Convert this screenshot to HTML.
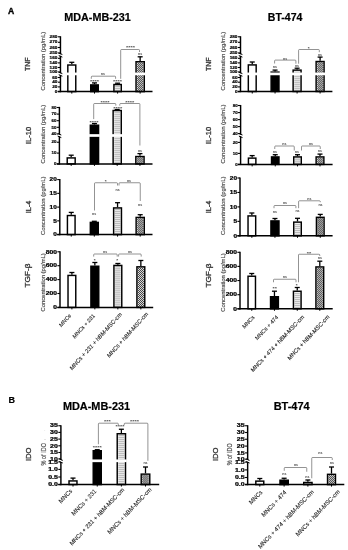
<!DOCTYPE html>
<html lang="en"><head><meta charset="utf-8"><title>Figure</title>
<style>html,body{margin:0;padding:0;background:#fff}svg{display:block}text{font-family:'Liberation Sans', Arial, sans-serif}</style></head><body>
<svg width="348" height="550" viewBox="0 0 348 550">
<rect width="348" height="550" fill="#fff"/>
<text x="0" y="0" font-size="86" transform="translate(8 14.4) scale(0.1000 0.1000)" font-weight="bold" stroke="#000" stroke-width="3.5">A</text>
<text x="0" y="0" font-size="90" transform="translate(8.5 402.6) scale(0.1000 0.1000)" font-weight="bold" stroke="#000" stroke-width="2">B</text>
<text x="0" y="0" font-size="106" transform="translate(64.3 20.6) scale(0.1017 0.1000)" font-weight="bold" stroke="#000" stroke-width="2">MDA-MB-231</text>
<text x="0" y="0" font-size="106" transform="translate(267.8 20.6) scale(0.0995 0.1000)" font-weight="bold" stroke="#000" stroke-width="2">BT-474</text>
<text x="0" y="0" font-size="108" transform="translate(62.9 410) scale(0.1010 0.1000)" font-weight="bold" stroke="#000" stroke-width="2">MDA-MB-231</text>
<text x="0" y="0" font-size="108" transform="translate(273.7 410) scale(0.1016 0.1000)" font-weight="bold" stroke="#000" stroke-width="2">BT-474</text>
<g id="tnf231">
<line x1="71.8" y1="64.3" x2="71.8" y2="62.3" stroke-width="1.3" stroke="#000"/>
<line x1="69.3" y1="62.3" x2="74.3" y2="62.3" stroke-width="1.3" stroke="#000"/>
<rect x="67.82" y="65.02" width="7.95" height="26.57" fill="#fff"/>
<rect x="67.82" y="65.02" width="7.95" height="26.57" fill="none" stroke="#000" stroke-width="1.45"/>
<line x1="71.8" y1="91.6" x2="71.8" y2="93.6" stroke-width="1.0" stroke="#000"/>
<line x1="94.5" y1="84.2" x2="94.5" y2="82.9" stroke-width="1.3" stroke="#000"/>
<line x1="92" y1="82.9" x2="97" y2="82.9" stroke-width="1.3" stroke="#000"/>
<rect x="90.72" y="84.92" width="7.55" height="6.67" fill="#000"/>
<rect x="90.72" y="84.92" width="7.55" height="6.67" fill="none" stroke="#000" stroke-width="1.45"/>
<line x1="94.5" y1="91.6" x2="94.5" y2="93.6" stroke-width="1.0" stroke="#000"/>
<line x1="117.6" y1="83.8" x2="117.6" y2="83.2" stroke-width="1.3" stroke="#000"/>
<line x1="115.1" y1="83.2" x2="120.1" y2="83.2" stroke-width="1.3" stroke="#000"/>
<rect x="113.92" y="84.52" width="7.35" height="7.07" fill="#efefef"/>
<path d="M115.15 90.4H120.05M115.15 88.4H120.05M115.15 86.4H120.05" stroke="#b2b2b2" stroke-width="0.95" fill="none"/>
<rect x="113.92" y="84.52" width="7.35" height="7.07" fill="none" stroke="#000" stroke-width="1.45"/>
<line x1="117.6" y1="91.6" x2="117.6" y2="93.6" stroke-width="1.0" stroke="#000"/>
<line x1="140.15" y1="61" x2="140.15" y2="56.8" stroke-width="1.3" stroke="#000"/>
<line x1="137.65" y1="56.8" x2="142.65" y2="56.8" stroke-width="1.3" stroke="#000"/>
<rect x="136.03" y="61.73" width="8.25" height="29.87" fill="#fff"/>
<path d="M136.75 91.6L136.75 91.6M136.75 89.6L138.75 91.6M136.75 87.6L140.75 91.6M136.75 85.6L142.75 91.6M136.75 83.6L143.55 90.4M136.75 81.6L143.55 88.4M136.75 79.6L143.55 86.4M136.75 77.6L143.55 84.4M136.75 75.6L143.55 82.4M136.75 73.6L143.55 80.4M136.75 71.6L143.55 78.4M136.75 69.6L143.55 76.4M136.75 67.6L143.55 74.4M136.75 65.6L143.55 72.4M136.75 63.6L143.55 70.4M137.6 62.45L143.55 68.4M139.6 62.45L143.55 66.4M141.6 62.45L143.55 64.4M142.75 91.6L143.55 90.8M140.75 91.6L143.55 88.8M138.75 91.6L143.55 86.8M136.75 91.6L143.55 84.8M136.75 89.6L143.55 82.8M136.75 87.6L143.55 80.8M136.75 85.6L143.55 78.8M136.75 83.6L143.55 76.8M136.75 81.6L143.55 74.8M136.75 79.6L143.55 72.8M136.75 77.6L143.55 70.8M136.75 75.6L143.55 68.8M136.75 73.6L143.55 66.8M136.75 71.6L143.55 64.8M136.75 69.6L143.55 62.8M136.75 67.6L141.9 62.45M136.75 65.6L139.9 62.45M136.75 63.6L137.9 62.45" stroke="#000" stroke-width="0.55" fill="none"/>
<rect x="136.03" y="61.73" width="8.25" height="29.87" fill="none" stroke="#000" stroke-width="1.45"/>
<line x1="140.15" y1="91.6" x2="140.15" y2="93.6" stroke-width="1.0" stroke="#000"/>
<rect x="66.6" y="72.55" width="10.4" height="2.7" fill="#fff"/>
<rect x="134.8" y="72.55" width="10.7" height="2.7" fill="#fff"/>
<line x1="60.45" y1="36.25" x2="60.45" y2="92.25" stroke-width="1.45" stroke="#000"/>
<line x1="57.85" y1="91.6" x2="152.5" y2="91.6" stroke-width="1.5" stroke="#000"/>
<line x1="57.85" y1="36.8" x2="60.45" y2="36.8" stroke-width="1.1" stroke="#000"/>
<text x="-55.06" y="0" font-size="33" transform="translate(57.45 37.99) scale(0.1428 0.1000)" font-weight="bold" stroke="#000" stroke-width="1.5">280</text>
<line x1="57.85" y1="42.3" x2="60.45" y2="42.3" stroke-width="1.1" stroke="#000"/>
<text x="-55.06" y="0" font-size="33" transform="translate(57.45 43.49) scale(0.1428 0.1000)" font-weight="bold" stroke="#000" stroke-width="1.5">270</text>
<line x1="57.85" y1="47.5" x2="60.45" y2="47.5" stroke-width="1.1" stroke="#000"/>
<text x="-55.06" y="0" font-size="33" transform="translate(57.45 48.69) scale(0.1428 0.1000)" font-weight="bold" stroke="#000" stroke-width="1.5">260</text>
<line x1="57.85" y1="53" x2="60.45" y2="53" stroke-width="1.1" stroke="#000"/>
<text x="-55.06" y="0" font-size="33" transform="translate(57.45 54.19) scale(0.1428 0.1000)" font-weight="bold" stroke="#000" stroke-width="1.5">250</text>
<line x1="57.85" y1="58.3" x2="60.45" y2="58.3" stroke-width="1.1" stroke="#000"/>
<text x="-55.06" y="0" font-size="33" transform="translate(57.45 59.49) scale(0.1428 0.1000)" font-weight="bold" stroke="#000" stroke-width="1.5">160</text>
<line x1="57.85" y1="62.9" x2="60.45" y2="62.9" stroke-width="1.1" stroke="#000"/>
<text x="-55.06" y="0" font-size="33" transform="translate(57.45 64.09) scale(0.1428 0.1000)" font-weight="bold" stroke="#000" stroke-width="1.5">140</text>
<line x1="57.85" y1="67.5" x2="60.45" y2="67.5" stroke-width="1.1" stroke="#000"/>
<text x="-55.06" y="0" font-size="33" transform="translate(57.45 68.69) scale(0.1428 0.1000)" font-weight="bold" stroke="#000" stroke-width="1.5">120</text>
<line x1="57.85" y1="72" x2="60.45" y2="72" stroke-width="1.1" stroke="#000"/>
<text x="-55.06" y="0" font-size="33" transform="translate(57.45 73.19) scale(0.1428 0.1000)" font-weight="bold" stroke="#000" stroke-width="1.5">100</text>
<line x1="57.85" y1="77.5" x2="60.45" y2="77.5" stroke-width="1.1" stroke="#000"/>
<text x="-36.71" y="0" font-size="33" transform="translate(57.45 78.69) scale(0.1428 0.1000)" font-weight="bold" stroke="#000" stroke-width="1.5">60</text>
<line x1="57.85" y1="82.2" x2="60.45" y2="82.2" stroke-width="1.1" stroke="#000"/>
<text x="-36.71" y="0" font-size="33" transform="translate(57.45 83.39) scale(0.1428 0.1000)" font-weight="bold" stroke="#000" stroke-width="1.5">40</text>
<line x1="57.85" y1="86.9" x2="60.45" y2="86.9" stroke-width="1.1" stroke="#000"/>
<text x="-36.71" y="0" font-size="33" transform="translate(57.45 88.09) scale(0.1428 0.1000)" font-weight="bold" stroke="#000" stroke-width="1.5">20</text>
<line x1="57.85" y1="91.6" x2="60.45" y2="91.6" stroke-width="1.1" stroke="#000"/>
<text x="-18.35" y="0" font-size="33" transform="translate(57.45 92.79) scale(0.1428 0.1000)" font-weight="bold" stroke="#000" stroke-width="1.5">0</text>
<line x1="59.15" y1="54.4" x2="61.75" y2="55.6" stroke-width="1.5" stroke="#fff"/>
<line x1="58.75" y1="53" x2="62.35" y2="54.5" stroke-width="1.0" stroke="#000"/>
<line x1="58.75" y1="55.6" x2="62.35" y2="57.1" stroke-width="1.0" stroke="#000"/>
<line x1="59.15" y1="73.5" x2="61.75" y2="74.7" stroke-width="1.5" stroke="#fff"/>
<line x1="58.75" y1="72.1" x2="62.35" y2="73.6" stroke-width="1.0" stroke="#000"/>
<line x1="58.75" y1="74.7" x2="62.35" y2="76.2" stroke-width="1.0" stroke="#000"/>
<path d="M91.3 78.8V77Q91.3 76.2 92.1 76.2H114.8Q115.6 76.2 115.6 77V78.8" stroke="#4a4a4a" stroke-width="0.6" fill="none"/>
<path d="M120.7 78.8V50.3Q120.7 49.5 121.5 49.5H138.7Q139.5 49.5 139.5 50.3V52" stroke="#4a4a4a" stroke-width="0.6" fill="none"/>
<text x="-21.59" y="0" font-size="37" transform="translate(102.9 74.85) scale(0.0973 0.1000)" font-weight="bold" fill="#484848">ns</text>
<text x="-29.58" y="0" font-size="38" transform="translate(130.5 49.15) scale(0.1522 0.1000)" font-weight="bold" fill="#444">****</text>
<text x="-29.58" y="0" font-size="38" transform="translate(94.6 83.05) scale(0.1522 0.1000)" font-weight="bold" fill="#444">****</text>
<text x="-29.58" y="0" font-size="38" transform="translate(117.6 83.05) scale(0.1522 0.1000)" font-weight="bold" fill="#444">****</text>
<text x="-21.59" y="0" font-size="37" transform="translate(140.2 55.15) scale(0.0973 0.1000)" font-weight="bold" fill="#484848">ns</text>
<text x="-66.09" y="0" font-size="68" transform="translate(30.4 64.3) rotate(-90) scale(0.1029 0.1000)" fill="#333" stroke="#333" stroke-width="3.2">TNF</text>
<text x="-293.5" y="0" font-size="59" transform="translate(44.9 61.1) rotate(-90) scale(0.1001 0.1000)" fill="#555" stroke="#555" stroke-width="2">Concentration (pg/mL)</text>
</g>
<g id="tnf474">
<line x1="252.25" y1="64.2" x2="252.25" y2="62" stroke-width="1.3" stroke="#000"/>
<line x1="249.75" y1="62" x2="254.75" y2="62" stroke-width="1.3" stroke="#000"/>
<rect x="248.32" y="64.92" width="7.85" height="26.57" fill="#fff"/>
<rect x="248.32" y="64.92" width="7.85" height="26.57" fill="none" stroke="#000" stroke-width="1.45"/>
<line x1="252.25" y1="91.5" x2="252.25" y2="93.5" stroke-width="1.0" stroke="#000"/>
<line x1="275.05" y1="71.4" x2="275.05" y2="70.1" stroke-width="1.3" stroke="#000"/>
<line x1="272.55" y1="70.1" x2="277.55" y2="70.1" stroke-width="1.3" stroke="#000"/>
<rect x="271.12" y="72.12" width="7.85" height="19.37" fill="#000"/>
<rect x="271.12" y="72.12" width="7.85" height="19.37" fill="none" stroke="#000" stroke-width="1.45"/>
<line x1="275.05" y1="91.5" x2="275.05" y2="93.5" stroke-width="1.0" stroke="#000"/>
<line x1="297.1" y1="69.4" x2="297.1" y2="68.2" stroke-width="1.3" stroke="#000"/>
<line x1="294.6" y1="68.2" x2="299.6" y2="68.2" stroke-width="1.3" stroke="#000"/>
<rect x="293.12" y="70.12" width="7.95" height="21.37" fill="#efefef"/>
<path d="M294.35 90.3H299.85M294.35 88.3H299.85M294.35 86.3H299.85M294.35 84.3H299.85M294.35 82.3H299.85M294.35 80.3H299.85M294.35 78.3H299.85M294.35 76.3H299.85M294.35 74.3H299.85M294.35 72.3H299.85" stroke="#b2b2b2" stroke-width="0.95" fill="none"/>
<rect x="293.12" y="70.12" width="7.95" height="21.37" fill="none" stroke="#000" stroke-width="1.45"/>
<line x1="297.1" y1="91.5" x2="297.1" y2="93.5" stroke-width="1.0" stroke="#000"/>
<line x1="320.1" y1="60.8" x2="320.1" y2="57.1" stroke-width="1.3" stroke="#000"/>
<line x1="317.6" y1="57.1" x2="322.6" y2="57.1" stroke-width="1.3" stroke="#000"/>
<rect x="316.12" y="61.52" width="7.95" height="29.98" fill="#fff"/>
<path d="M316.85 91.5L316.85 91.5M316.85 89.5L318.85 91.5M316.85 87.5L320.85 91.5M316.85 85.5L322.85 91.5M316.85 83.5L323.35 90M316.85 81.5L323.35 88M316.85 79.5L323.35 86M316.85 77.5L323.35 84M316.85 75.5L323.35 82M316.85 73.5L323.35 80M316.85 71.5L323.35 78M316.85 69.5L323.35 76M316.85 67.5L323.35 74M316.85 65.5L323.35 72M316.85 63.5L323.35 70M317.6 62.25L323.35 68M319.6 62.25L323.35 66M321.6 62.25L323.35 64M322.85 91.5L323.35 91M320.85 91.5L323.35 89M318.85 91.5L323.35 87M316.85 91.5L323.35 85M316.85 89.5L323.35 83M316.85 87.5L323.35 81M316.85 85.5L323.35 79M316.85 83.5L323.35 77M316.85 81.5L323.35 75M316.85 79.5L323.35 73M316.85 77.5L323.35 71M316.85 75.5L323.35 69M316.85 73.5L323.35 67M316.85 71.5L323.35 65M316.85 69.5L323.35 63M316.85 67.5L322.1 62.25M316.85 65.5L320.1 62.25M316.85 63.5L318.1 62.25" stroke="#000" stroke-width="0.55" fill="none"/>
<rect x="316.12" y="61.52" width="7.95" height="29.98" fill="none" stroke="#000" stroke-width="1.45"/>
<line x1="320.1" y1="91.5" x2="320.1" y2="93.5" stroke-width="1.0" stroke="#000"/>
<rect x="247.1" y="72.55" width="10.3" height="2.7" fill="#fff"/>
<rect x="269.9" y="72.55" width="10.3" height="2.7" fill="#fff"/>
<rect x="291.9" y="72.55" width="10.4" height="2.7" fill="#fff"/>
<rect x="314.9" y="72.55" width="10.4" height="2.7" fill="#fff"/>
<line x1="240.5" y1="36.25" x2="240.5" y2="92.15" stroke-width="1.45" stroke="#000"/>
<line x1="237.9" y1="91.5" x2="332.4" y2="91.5" stroke-width="1.5" stroke="#000"/>
<line x1="237.9" y1="36.8" x2="240.5" y2="36.8" stroke-width="1.1" stroke="#000"/>
<text x="-55.06" y="0" font-size="33" transform="translate(237.5 37.99) scale(0.1428 0.1000)" font-weight="bold" stroke="#000" stroke-width="1.5">280</text>
<line x1="237.9" y1="42.3" x2="240.5" y2="42.3" stroke-width="1.1" stroke="#000"/>
<text x="-55.06" y="0" font-size="33" transform="translate(237.5 43.49) scale(0.1428 0.1000)" font-weight="bold" stroke="#000" stroke-width="1.5">270</text>
<line x1="237.9" y1="47.5" x2="240.5" y2="47.5" stroke-width="1.1" stroke="#000"/>
<text x="-55.06" y="0" font-size="33" transform="translate(237.5 48.69) scale(0.1428 0.1000)" font-weight="bold" stroke="#000" stroke-width="1.5">260</text>
<line x1="237.9" y1="53" x2="240.5" y2="53" stroke-width="1.1" stroke="#000"/>
<text x="-55.06" y="0" font-size="33" transform="translate(237.5 54.19) scale(0.1428 0.1000)" font-weight="bold" stroke="#000" stroke-width="1.5">250</text>
<line x1="237.9" y1="58.3" x2="240.5" y2="58.3" stroke-width="1.1" stroke="#000"/>
<text x="-55.06" y="0" font-size="33" transform="translate(237.5 59.49) scale(0.1428 0.1000)" font-weight="bold" stroke="#000" stroke-width="1.5">160</text>
<line x1="237.9" y1="62.9" x2="240.5" y2="62.9" stroke-width="1.1" stroke="#000"/>
<text x="-55.06" y="0" font-size="33" transform="translate(237.5 64.09) scale(0.1428 0.1000)" font-weight="bold" stroke="#000" stroke-width="1.5">140</text>
<line x1="237.9" y1="67.5" x2="240.5" y2="67.5" stroke-width="1.1" stroke="#000"/>
<text x="-55.06" y="0" font-size="33" transform="translate(237.5 68.69) scale(0.1428 0.1000)" font-weight="bold" stroke="#000" stroke-width="1.5">120</text>
<line x1="237.9" y1="72" x2="240.5" y2="72" stroke-width="1.1" stroke="#000"/>
<text x="-55.06" y="0" font-size="33" transform="translate(237.5 73.19) scale(0.1428 0.1000)" font-weight="bold" stroke="#000" stroke-width="1.5">100</text>
<line x1="237.9" y1="77.5" x2="240.5" y2="77.5" stroke-width="1.1" stroke="#000"/>
<text x="-36.71" y="0" font-size="33" transform="translate(237.5 78.69) scale(0.1428 0.1000)" font-weight="bold" stroke="#000" stroke-width="1.5">60</text>
<line x1="237.9" y1="82.2" x2="240.5" y2="82.2" stroke-width="1.1" stroke="#000"/>
<text x="-36.71" y="0" font-size="33" transform="translate(237.5 83.39) scale(0.1428 0.1000)" font-weight="bold" stroke="#000" stroke-width="1.5">40</text>
<line x1="237.9" y1="86.9" x2="240.5" y2="86.9" stroke-width="1.1" stroke="#000"/>
<text x="-36.71" y="0" font-size="33" transform="translate(237.5 88.09) scale(0.1428 0.1000)" font-weight="bold" stroke="#000" stroke-width="1.5">20</text>
<line x1="237.9" y1="91.6" x2="240.5" y2="91.6" stroke-width="1.1" stroke="#000"/>
<text x="-18.35" y="0" font-size="33" transform="translate(237.5 92.79) scale(0.1428 0.1000)" font-weight="bold" stroke="#000" stroke-width="1.5">0</text>
<line x1="239.2" y1="54.4" x2="241.8" y2="55.6" stroke-width="1.5" stroke="#fff"/>
<line x1="238.8" y1="53" x2="242.4" y2="54.5" stroke-width="1.0" stroke="#000"/>
<line x1="238.8" y1="55.6" x2="242.4" y2="57.1" stroke-width="1.0" stroke="#000"/>
<line x1="239.2" y1="73.5" x2="241.8" y2="74.7" stroke-width="1.5" stroke="#fff"/>
<line x1="238.8" y1="72.1" x2="242.4" y2="73.6" stroke-width="1.0" stroke="#000"/>
<line x1="238.8" y1="74.7" x2="242.4" y2="76.2" stroke-width="1.0" stroke="#000"/>
<path d="M274.6 63.5V60.9Q274.6 60.1 275.4 60.1H295.1Q295.9 60.1 295.9 60.9V63.7" stroke="#4a4a4a" stroke-width="0.6" fill="none"/>
<path d="M298.6 63.7V50.3Q298.6 49.5 299.4 49.5H318.5Q319.3 49.5 319.3 50.3V52.2" stroke="#4a4a4a" stroke-width="0.6" fill="none"/>
<text x="-21.59" y="0" font-size="37" transform="translate(285.2 59.65) scale(0.0973 0.1000)" font-weight="bold" fill="#484848">ns</text>
<text x="-7.39" y="0" font-size="38" transform="translate(308.8 49.55) scale(0.1285 0.1000)" font-weight="bold" fill="#444">*</text>
<text x="-21.59" y="0" font-size="37" transform="translate(274.8 68.45) scale(0.0973 0.1000)" font-weight="bold" fill="#484848">ns</text>
<text x="-21.59" y="0" font-size="37" transform="translate(297 67.05) scale(0.0973 0.1000)" font-weight="bold" fill="#484848">ns</text>
<text x="-21.59" y="0" font-size="37" transform="translate(320 55.75) scale(0.0973 0.1000)" font-weight="bold" fill="#484848">ns</text>
<text x="-66.09" y="0" font-size="68" transform="translate(210.6 64.3) rotate(-90) scale(0.1029 0.1000)" fill="#333" stroke="#333" stroke-width="3.2">TNF</text>
<text x="-293.5" y="0" font-size="59" transform="translate(225 61.1) rotate(-90) scale(0.1001 0.1000)" fill="#555" stroke="#555" stroke-width="2">Concentration (pg/mL)</text>
</g>
<g id="il10_231">
<line x1="71.2" y1="157.2" x2="71.2" y2="155.2" stroke-width="1.3" stroke="#000"/>
<line x1="68.7" y1="155.2" x2="73.7" y2="155.2" stroke-width="1.3" stroke="#000"/>
<rect x="67.22" y="157.92" width="7.95" height="5.98" fill="#fff"/>
<rect x="67.22" y="157.92" width="7.95" height="5.98" fill="none" stroke="#000" stroke-width="1.45"/>
<line x1="71.2" y1="163.9" x2="71.2" y2="165.9" stroke-width="1.0" stroke="#000"/>
<line x1="94.45" y1="124.5" x2="94.45" y2="123.6" stroke-width="1.3" stroke="#000"/>
<line x1="91.95" y1="123.6" x2="96.95" y2="123.6" stroke-width="1.3" stroke="#000"/>
<rect x="90.32" y="125.22" width="8.25" height="38.68" fill="#000"/>
<rect x="90.32" y="125.22" width="8.25" height="38.68" fill="none" stroke="#000" stroke-width="1.45"/>
<line x1="94.45" y1="163.9" x2="94.45" y2="165.9" stroke-width="1.0" stroke="#000"/>
<line x1="117.2" y1="109.8" x2="117.2" y2="109.5" stroke-width="1.3" stroke="#000"/>
<line x1="114.7" y1="109.5" x2="119.7" y2="109.5" stroke-width="1.3" stroke="#000"/>
<rect x="113.12" y="110.52" width="8.15" height="53.38" fill="#efefef"/>
<path d="M114.35 162.7H120.05M114.35 160.7H120.05M114.35 158.7H120.05M114.35 156.7H120.05M114.35 154.7H120.05M114.35 152.7H120.05M114.35 150.7H120.05M114.35 148.7H120.05M114.35 146.7H120.05M114.35 144.7H120.05M114.35 142.7H120.05M114.35 140.7H120.05M114.35 138.7H120.05M114.35 136.7H120.05M114.35 134.7H120.05M114.35 132.7H120.05M114.35 130.7H120.05M114.35 128.7H120.05M114.35 126.7H120.05M114.35 124.7H120.05M114.35 122.7H120.05M114.35 120.7H120.05M114.35 118.7H120.05M114.35 116.7H120.05M114.35 114.7H120.05M114.35 112.7H120.05" stroke="#b2b2b2" stroke-width="0.95" fill="none"/>
<rect x="113.12" y="110.52" width="8.15" height="53.38" fill="none" stroke="#000" stroke-width="1.45"/>
<line x1="117.2" y1="163.9" x2="117.2" y2="165.9" stroke-width="1.0" stroke="#000"/>
<line x1="139.95" y1="155.8" x2="139.95" y2="153.6" stroke-width="1.3" stroke="#000"/>
<line x1="137.45" y1="153.6" x2="142.45" y2="153.6" stroke-width="1.3" stroke="#000"/>
<rect x="135.82" y="156.53" width="8.25" height="7.37" fill="#fff"/>
<path d="M136.55 163.9L136.55 163.9M136.55 161.9L138.55 163.9M136.55 159.9L140.55 163.9M136.55 157.9L142.55 163.9M137.9 157.25L143.35 162.7M139.9 157.25L143.35 160.7M141.9 157.25L143.35 158.7M142.55 163.9L143.35 163.1M140.55 163.9L143.35 161.1M138.55 163.9L143.35 159.1M136.55 163.9L143.2 157.25M136.55 161.9L141.2 157.25M136.55 159.9L139.2 157.25M136.55 157.9L137.2 157.25" stroke="#000" stroke-width="0.55" fill="none"/>
<rect x="135.82" y="156.53" width="8.25" height="7.37" fill="none" stroke="#000" stroke-width="1.45"/>
<line x1="139.95" y1="163.9" x2="139.95" y2="165.9" stroke-width="1.0" stroke="#000"/>
<rect x="89.1" y="134.15" width="10.7" height="2.7" fill="#fff"/>
<rect x="111.9" y="134.15" width="10.6" height="2.7" fill="#fff"/>
<line x1="59.4" y1="106.85" x2="59.4" y2="164.55" stroke-width="1.45" stroke="#000"/>
<line x1="56.8" y1="163.9" x2="152.5" y2="163.9" stroke-width="1.5" stroke="#000"/>
<line x1="56.8" y1="107.5" x2="59.4" y2="107.5" stroke-width="1.1" stroke="#000"/>
<text x="-37.82" y="0" font-size="34" transform="translate(56.4 108.72) scale(0.1296 0.1000)" font-weight="bold" stroke="#000" stroke-width="1.5">80</text>
<line x1="56.8" y1="114.1" x2="59.4" y2="114.1" stroke-width="1.1" stroke="#000"/>
<text x="-37.82" y="0" font-size="34" transform="translate(56.4 115.32) scale(0.1296 0.1000)" font-weight="bold" stroke="#000" stroke-width="1.5">70</text>
<line x1="56.8" y1="120.7" x2="59.4" y2="120.7" stroke-width="1.1" stroke="#000"/>
<text x="-37.82" y="0" font-size="34" transform="translate(56.4 121.92) scale(0.1296 0.1000)" font-weight="bold" stroke="#000" stroke-width="1.5">60</text>
<line x1="56.8" y1="127.3" x2="59.4" y2="127.3" stroke-width="1.1" stroke="#000"/>
<text x="-37.82" y="0" font-size="34" transform="translate(56.4 128.52) scale(0.1296 0.1000)" font-weight="bold" stroke="#000" stroke-width="1.5">50</text>
<line x1="56.8" y1="134" x2="59.4" y2="134" stroke-width="1.1" stroke="#000"/>
<text x="-37.82" y="0" font-size="34" transform="translate(56.4 135.22) scale(0.1296 0.1000)" font-weight="bold" stroke="#000" stroke-width="1.5">40</text>
<line x1="56.8" y1="142.25" x2="59.4" y2="142.25" stroke-width="1.1" stroke="#000"/>
<text x="-37.82" y="0" font-size="34" transform="translate(56.4 143.47) scale(0.1296 0.1000)" font-weight="bold" stroke="#000" stroke-width="1.5">20</text>
<line x1="56.8" y1="153.1" x2="59.4" y2="153.1" stroke-width="1.1" stroke="#000"/>
<text x="-37.82" y="0" font-size="34" transform="translate(56.4 154.32) scale(0.1296 0.1000)" font-weight="bold" stroke="#000" stroke-width="1.5">10</text>
<line x1="56.8" y1="163.9" x2="59.4" y2="163.9" stroke-width="1.1" stroke="#000"/>
<text x="-18.91" y="0" font-size="34" transform="translate(56.4 165.12) scale(0.1296 0.1000)" font-weight="bold" stroke="#000" stroke-width="1.5">0</text>
<line x1="58.1" y1="134.9" x2="60.7" y2="136.1" stroke-width="1.5" stroke="#fff"/>
<line x1="57.7" y1="133.5" x2="61.3" y2="135" stroke-width="1.0" stroke="#000"/>
<line x1="57.7" y1="136.1" x2="61.3" y2="137.6" stroke-width="1.0" stroke="#000"/>
<path d="M93.7 119.1V104.3Q93.7 103.5 94.5 103.5H115Q115.8 103.5 115.8 104.3V105.7" stroke="#4a4a4a" stroke-width="0.6" fill="none"/>
<path d="M119.8 105.7V104.3Q119.8 103.5 120.6 103.5H139.1Q139.9 103.5 139.9 104.3V145.5" stroke="#4a4a4a" stroke-width="0.6" fill="none"/>
<text x="-29.58" y="0" font-size="38" transform="translate(105.1 104.35) scale(0.1522 0.1000)" font-weight="bold" fill="#444">****</text>
<text x="-29.58" y="0" font-size="38" transform="translate(129.8 104.35) scale(0.1522 0.1000)" font-weight="bold" fill="#444">****</text>
<text x="-29.58" y="0" font-size="38" transform="translate(94.1 123.95) scale(0.1522 0.1000)" font-weight="bold" fill="#444">****</text>
<text x="-29.58" y="0" font-size="38" transform="translate(117.7 109.85) scale(0.1522 0.1000)" font-weight="bold" fill="#444">****</text>
<text x="-21.59" y="0" font-size="37" transform="translate(140 151.65) scale(0.0973 0.1000)" font-weight="bold" fill="#484848">ns</text>
<text x="-75.22" y="0" font-size="66" transform="translate(30.7 135.4) rotate(-90) scale(0.1147 0.1000)" fill="#333" stroke="#333" stroke-width="3.2">IL-10</text>
<text x="-293.5" y="0" font-size="59" transform="translate(44.9 134.1) rotate(-90) scale(0.1001 0.1000)" fill="#555" stroke="#555" stroke-width="2">Concentration (pg/mL)</text>
</g>
<g id="il10_474">
<line x1="252.15" y1="157.4" x2="252.15" y2="155.6" stroke-width="1.3" stroke="#000"/>
<line x1="249.65" y1="155.6" x2="254.65" y2="155.6" stroke-width="1.3" stroke="#000"/>
<rect x="248.42" y="158.12" width="7.45" height="6.28" fill="#fff"/>
<rect x="248.42" y="158.12" width="7.45" height="6.28" fill="none" stroke="#000" stroke-width="1.45"/>
<line x1="252.15" y1="164.4" x2="252.15" y2="166.4" stroke-width="1.0" stroke="#000"/>
<line x1="275.25" y1="156.2" x2="275.25" y2="154.7" stroke-width="1.3" stroke="#000"/>
<line x1="272.75" y1="154.7" x2="277.75" y2="154.7" stroke-width="1.3" stroke="#000"/>
<rect x="271.53" y="156.92" width="7.45" height="7.48" fill="#000"/>
<rect x="271.53" y="156.92" width="7.45" height="7.48" fill="none" stroke="#000" stroke-width="1.45"/>
<line x1="275.25" y1="164.4" x2="275.25" y2="166.4" stroke-width="1.0" stroke="#000"/>
<line x1="297.5" y1="156.2" x2="297.5" y2="154.7" stroke-width="1.3" stroke="#000"/>
<line x1="295" y1="154.7" x2="300" y2="154.7" stroke-width="1.3" stroke="#000"/>
<rect x="293.73" y="156.92" width="7.55" height="7.48" fill="#efefef"/>
<path d="M294.95 163.2H300.05M294.95 161.2H300.05M294.95 159.2H300.05" stroke="#b2b2b2" stroke-width="0.95" fill="none"/>
<rect x="293.73" y="156.92" width="7.55" height="7.48" fill="none" stroke="#000" stroke-width="1.45"/>
<line x1="297.5" y1="164.4" x2="297.5" y2="166.4" stroke-width="1.0" stroke="#000"/>
<line x1="320" y1="156.2" x2="320" y2="154.1" stroke-width="1.3" stroke="#000"/>
<line x1="317.5" y1="154.1" x2="322.5" y2="154.1" stroke-width="1.3" stroke="#000"/>
<rect x="316.12" y="156.92" width="7.75" height="7.48" fill="#fff"/>
<path d="M316.85 164.4L316.85 164.4M316.85 162.4L318.85 164.4M316.85 160.4L320.85 164.4M316.85 158.4L322.85 164.4M318.1 157.65L323.15 162.7M320.1 157.65L323.15 160.7M322.1 157.65L323.15 158.7M322.85 164.4L323.15 164.1M320.85 164.4L323.15 162.1M318.85 164.4L323.15 160.1M316.85 164.4L323.15 158.1M316.85 162.4L321.6 157.65M316.85 160.4L319.6 157.65M316.85 158.4L317.6 157.65" stroke="#000" stroke-width="0.55" fill="none"/>
<rect x="316.12" y="156.92" width="7.75" height="7.48" fill="none" stroke="#000" stroke-width="1.45"/>
<line x1="320" y1="164.4" x2="320" y2="166.4" stroke-width="1.0" stroke="#000"/>
<line x1="240.6" y1="104.95" x2="240.6" y2="165.05" stroke-width="1.45" stroke="#000"/>
<line x1="238" y1="164.4" x2="332.6" y2="164.4" stroke-width="1.5" stroke="#000"/>
<line x1="238" y1="105.5" x2="240.6" y2="105.5" stroke-width="1.1" stroke="#000"/>
<text x="-37.82" y="0" font-size="34" transform="translate(237.6 106.72) scale(0.1296 0.1000)" font-weight="bold" stroke="#000" stroke-width="1.5">80</text>
<line x1="238" y1="112.6" x2="240.6" y2="112.6" stroke-width="1.1" stroke="#000"/>
<text x="-37.82" y="0" font-size="34" transform="translate(237.6 113.82) scale(0.1296 0.1000)" font-weight="bold" stroke="#000" stroke-width="1.5">70</text>
<line x1="238" y1="119.6" x2="240.6" y2="119.6" stroke-width="1.1" stroke="#000"/>
<text x="-37.82" y="0" font-size="34" transform="translate(237.6 120.82) scale(0.1296 0.1000)" font-weight="bold" stroke="#000" stroke-width="1.5">60</text>
<line x1="238" y1="126.6" x2="240.6" y2="126.6" stroke-width="1.1" stroke="#000"/>
<text x="-37.82" y="0" font-size="34" transform="translate(237.6 127.82) scale(0.1296 0.1000)" font-weight="bold" stroke="#000" stroke-width="1.5">50</text>
<line x1="238" y1="133.6" x2="240.6" y2="133.6" stroke-width="1.1" stroke="#000"/>
<text x="-37.82" y="0" font-size="34" transform="translate(237.6 134.82) scale(0.1296 0.1000)" font-weight="bold" stroke="#000" stroke-width="1.5">40</text>
<line x1="238" y1="142.4" x2="240.6" y2="142.4" stroke-width="1.1" stroke="#000"/>
<text x="-37.82" y="0" font-size="34" transform="translate(237.6 143.62) scale(0.1296 0.1000)" font-weight="bold" stroke="#000" stroke-width="1.5">20</text>
<line x1="238" y1="153.4" x2="240.6" y2="153.4" stroke-width="1.1" stroke="#000"/>
<text x="-37.82" y="0" font-size="34" transform="translate(237.6 154.62) scale(0.1296 0.1000)" font-weight="bold" stroke="#000" stroke-width="1.5">10</text>
<line x1="238" y1="164.4" x2="240.6" y2="164.4" stroke-width="1.1" stroke="#000"/>
<text x="-18.91" y="0" font-size="34" transform="translate(237.6 165.62) scale(0.1296 0.1000)" font-weight="bold" stroke="#000" stroke-width="1.5">0</text>
<line x1="239.3" y1="134.9" x2="241.9" y2="136.1" stroke-width="1.5" stroke="#fff"/>
<line x1="238.9" y1="133.5" x2="242.5" y2="135" stroke-width="1.0" stroke="#000"/>
<line x1="238.9" y1="136.1" x2="242.5" y2="137.6" stroke-width="1.0" stroke="#000"/>
<path d="M274.75 149V146.8Q274.75 146 275.55 146H293.45Q294.25 146 294.25 146.8V150.5" stroke="#4a4a4a" stroke-width="0.6" fill="none"/>
<path d="M301.5 150.5V146.8Q301.5 146 302.3 146H319.45Q320.25 146 320.25 146.8V149" stroke="#4a4a4a" stroke-width="0.6" fill="none"/>
<text x="-21.59" y="0" font-size="37" transform="translate(284.3 145.45) scale(0.0973 0.1000)" font-weight="bold" fill="#484848">ns</text>
<text x="-21.59" y="0" font-size="37" transform="translate(311 145.45) scale(0.0973 0.1000)" font-weight="bold" fill="#484848">ns</text>
<text x="-21.59" y="0" font-size="37" transform="translate(274.8 152.95) scale(0.0973 0.1000)" font-weight="bold" fill="#484848">ns</text>
<text x="-21.59" y="0" font-size="37" transform="translate(296.8 152.95) scale(0.0973 0.1000)" font-weight="bold" fill="#484848">ns</text>
<text x="-21.59" y="0" font-size="37" transform="translate(319.8 152.25) scale(0.0973 0.1000)" font-weight="bold" fill="#484848">ns</text>
<text x="-75.22" y="0" font-size="66" transform="translate(210.8 135.4) rotate(-90) scale(0.1147 0.1000)" fill="#333" stroke="#333" stroke-width="3.2">IL-10</text>
<text x="-293.5" y="0" font-size="59" transform="translate(225 133.9) rotate(-90) scale(0.1009 0.1000)" fill="#555" stroke="#555" stroke-width="2">Concentration (pg/mL)</text>
</g>
<g id="il4_231">
<line x1="71.25" y1="214.8" x2="71.25" y2="212.4" stroke-width="1.3" stroke="#000"/>
<line x1="68.75" y1="212.4" x2="73.75" y2="212.4" stroke-width="1.3" stroke="#000"/>
<rect x="67.42" y="215.53" width="7.65" height="19.07" fill="#fff"/>
<rect x="67.42" y="215.53" width="7.65" height="19.07" fill="none" stroke="#000" stroke-width="1.45"/>
<line x1="71.25" y1="234.6" x2="71.25" y2="236.6" stroke-width="1.0" stroke="#000"/>
<line x1="94.3" y1="221.7" x2="94.3" y2="221.3" stroke-width="1.3" stroke="#000"/>
<line x1="91.8" y1="221.3" x2="96.8" y2="221.3" stroke-width="1.3" stroke="#000"/>
<rect x="90.32" y="222.42" width="7.95" height="12.18" fill="#000"/>
<rect x="90.32" y="222.42" width="7.95" height="12.18" fill="none" stroke="#000" stroke-width="1.45"/>
<line x1="94.3" y1="234.6" x2="94.3" y2="236.6" stroke-width="1.0" stroke="#000"/>
<line x1="117.55" y1="207.2" x2="117.55" y2="202.7" stroke-width="1.3" stroke="#000"/>
<line x1="115.05" y1="202.7" x2="120.05" y2="202.7" stroke-width="1.3" stroke="#000"/>
<rect x="113.62" y="207.92" width="7.85" height="26.68" fill="#efefef"/>
<path d="M114.85 233.4H120.25M114.85 231.4H120.25M114.85 229.4H120.25M114.85 227.4H120.25M114.85 225.4H120.25M114.85 223.4H120.25M114.85 221.4H120.25M114.85 219.4H120.25M114.85 217.4H120.25M114.85 215.4H120.25M114.85 213.4H120.25M114.85 211.4H120.25M114.85 209.4H120.25" stroke="#b2b2b2" stroke-width="0.95" fill="none"/>
<rect x="113.62" y="207.92" width="7.85" height="26.68" fill="none" stroke="#000" stroke-width="1.45"/>
<line x1="117.55" y1="234.6" x2="117.55" y2="236.6" stroke-width="1.0" stroke="#000"/>
<line x1="140.2" y1="216.7" x2="140.2" y2="214.7" stroke-width="1.3" stroke="#000"/>
<line x1="137.7" y1="214.7" x2="142.7" y2="214.7" stroke-width="1.3" stroke="#000"/>
<rect x="136.12" y="217.42" width="8.15" height="17.18" fill="#fff"/>
<path d="M136.85 234.6L136.85 234.6M136.85 232.6L138.85 234.6M136.85 230.6L140.85 234.6M136.85 228.6L142.85 234.6M136.85 226.6L143.55 233.3M136.85 224.6L143.55 231.3M136.85 222.6L143.55 229.3M136.85 220.6L143.55 227.3M136.85 218.6L143.55 225.3M138.4 218.15L143.55 223.3M140.4 218.15L143.55 221.3M142.4 218.15L143.55 219.3M142.85 234.6L143.55 233.9M140.85 234.6L143.55 231.9M138.85 234.6L143.55 229.9M136.85 234.6L143.55 227.9M136.85 232.6L143.55 225.9M136.85 230.6L143.55 223.9M136.85 228.6L143.55 221.9M136.85 226.6L143.55 219.9M136.85 224.6L143.3 218.15M136.85 222.6L141.3 218.15M136.85 220.6L139.3 218.15M136.85 218.6L137.3 218.15" stroke="#000" stroke-width="0.55" fill="none"/>
<rect x="136.12" y="217.42" width="8.15" height="17.18" fill="none" stroke="#000" stroke-width="1.45"/>
<line x1="140.2" y1="234.6" x2="140.2" y2="236.6" stroke-width="1.0" stroke="#000"/>
<line x1="59.8" y1="179.05" x2="59.8" y2="235.25" stroke-width="1.45" stroke="#000"/>
<line x1="57.2" y1="234.6" x2="152.5" y2="234.6" stroke-width="1.5" stroke="#000"/>
<line x1="57.2" y1="179.6" x2="59.8" y2="179.6" stroke-width="1.1" stroke="#000"/>
<text x="-53.39" y="0" font-size="48" transform="translate(56.8 181.33) scale(0.1349 0.1000)" font-weight="bold" stroke="#000" stroke-width="2.2">20</text>
<line x1="57.2" y1="193.35" x2="59.8" y2="193.35" stroke-width="1.1" stroke="#000"/>
<text x="-53.39" y="0" font-size="48" transform="translate(56.8 195.08) scale(0.1349 0.1000)" font-weight="bold" stroke="#000" stroke-width="2.2">15</text>
<line x1="57.2" y1="207.1" x2="59.8" y2="207.1" stroke-width="1.1" stroke="#000"/>
<text x="-53.39" y="0" font-size="48" transform="translate(56.8 208.83) scale(0.1349 0.1000)" font-weight="bold" stroke="#000" stroke-width="2.2">10</text>
<line x1="57.2" y1="220.85" x2="59.8" y2="220.85" stroke-width="1.1" stroke="#000"/>
<text x="-26.7" y="0" font-size="48" transform="translate(56.8 222.58) scale(0.1349 0.1000)" font-weight="bold" stroke="#000" stroke-width="2.2">5</text>
<line x1="57.2" y1="234.6" x2="59.8" y2="234.6" stroke-width="1.1" stroke="#000"/>
<text x="-26.7" y="0" font-size="48" transform="translate(56.8 236.33) scale(0.1349 0.1000)" font-weight="bold" stroke="#000" stroke-width="2.2">0</text>
<path d="M94.5 210.5V183.55Q94.5 182.75 95.3 182.75H116.7Q117.5 182.75 117.5 183.55V185.5" stroke="#4a4a4a" stroke-width="0.6" fill="none"/>
<path d="M119 185.5V183.55Q119 182.75 119.8 182.75H139.45Q140.25 182.75 140.25 183.55V201" stroke="#4a4a4a" stroke-width="0.6" fill="none"/>
<text x="-7.39" y="0" font-size="38" transform="translate(105.75 183.35) scale(0.1285 0.1000)" font-weight="bold" fill="#444">*</text>
<text x="-21.59" y="0" font-size="37" transform="translate(129 181.75) scale(0.0973 0.1000)" font-weight="bold" fill="#484848">ns</text>
<text x="-21.59" y="0" font-size="37" transform="translate(117.6 190.95) scale(0.0973 0.1000)" font-weight="bold" fill="#484848">ns</text>
<text x="-21.59" y="0" font-size="37" transform="translate(140.2 206.45) scale(0.0973 0.1000)" font-weight="bold" fill="#484848">ns</text>
<text x="-21.59" y="0" font-size="37" transform="translate(94.2 215.25) scale(0.0973 0.1000)" font-weight="bold" fill="#484848">ns</text>
<text x="-56.86" y="0" font-size="66" transform="translate(30.7 207) rotate(-90) scale(0.1099 0.1000)" fill="#333" stroke="#333" stroke-width="3.2">IL-4</text>
<text x="-293.5" y="0" font-size="59" transform="translate(44.9 205.7) rotate(-90) scale(0.0997 0.1000)" fill="#555" stroke="#555" stroke-width="2">Concentration (pg/mL)</text>
</g>
<g id="il4_474">
<line x1="251.85" y1="215.2" x2="251.85" y2="213" stroke-width="1.3" stroke="#000"/>
<line x1="249.35" y1="213" x2="254.35" y2="213" stroke-width="1.3" stroke="#000"/>
<rect x="248.03" y="215.92" width="7.65" height="19.88" fill="#fff"/>
<rect x="248.03" y="215.92" width="7.65" height="19.88" fill="none" stroke="#000" stroke-width="1.45"/>
<line x1="251.85" y1="235.8" x2="251.85" y2="237.8" stroke-width="1.0" stroke="#000"/>
<line x1="274.95" y1="220.2" x2="274.95" y2="218.5" stroke-width="1.3" stroke="#000"/>
<line x1="272.45" y1="218.5" x2="277.45" y2="218.5" stroke-width="1.3" stroke="#000"/>
<rect x="270.93" y="220.92" width="8.05" height="14.88" fill="#000"/>
<rect x="270.93" y="220.92" width="8.05" height="14.88" fill="none" stroke="#000" stroke-width="1.45"/>
<line x1="274.95" y1="235.8" x2="274.95" y2="237.8" stroke-width="1.0" stroke="#000"/>
<line x1="297.5" y1="221.4" x2="297.5" y2="218.3" stroke-width="1.3" stroke="#000"/>
<line x1="295" y1="218.3" x2="300" y2="218.3" stroke-width="1.3" stroke="#000"/>
<rect x="293.73" y="222.12" width="7.55" height="13.68" fill="#efefef"/>
<path d="M294.95 234.6H300.05M294.95 232.6H300.05M294.95 230.6H300.05M294.95 228.6H300.05M294.95 226.6H300.05M294.95 224.6H300.05" stroke="#b2b2b2" stroke-width="0.95" fill="none"/>
<rect x="293.73" y="222.12" width="7.55" height="13.68" fill="none" stroke="#000" stroke-width="1.45"/>
<line x1="297.5" y1="235.8" x2="297.5" y2="237.8" stroke-width="1.0" stroke="#000"/>
<line x1="320.25" y1="216.6" x2="320.25" y2="214.4" stroke-width="1.3" stroke="#000"/>
<line x1="317.75" y1="214.4" x2="322.75" y2="214.4" stroke-width="1.3" stroke="#000"/>
<rect x="316.43" y="217.32" width="7.65" height="18.48" fill="#fff"/>
<path d="M317.15 235.8L317.15 235.8M317.15 233.8L319.15 235.8M317.15 231.8L321.15 235.8M317.15 229.8L323.15 235.8M317.15 227.8L323.35 234M317.15 225.8L323.35 232M317.15 223.8L323.35 230M317.15 221.8L323.35 228M317.15 219.8L323.35 226M317.4 218.05L323.35 224M319.4 218.05L323.35 222M321.4 218.05L323.35 220M323.15 235.8L323.35 235.6M321.15 235.8L323.35 233.6M319.15 235.8L323.35 231.6M317.15 235.8L323.35 229.6M317.15 233.8L323.35 227.6M317.15 231.8L323.35 225.6M317.15 229.8L323.35 223.6M317.15 227.8L323.35 221.6M317.15 225.8L323.35 219.6M317.15 223.8L322.9 218.05M317.15 221.8L320.9 218.05M317.15 219.8L318.9 218.05" stroke="#000" stroke-width="0.55" fill="none"/>
<rect x="316.43" y="217.32" width="7.65" height="18.48" fill="none" stroke="#000" stroke-width="1.45"/>
<line x1="320.25" y1="235.8" x2="320.25" y2="237.8" stroke-width="1.0" stroke="#000"/>
<line x1="240" y1="177.45" x2="240" y2="236.45" stroke-width="1.45" stroke="#000"/>
<line x1="237.4" y1="235.8" x2="332.6" y2="235.8" stroke-width="1.5" stroke="#000"/>
<line x1="237.4" y1="178" x2="240" y2="178" stroke-width="1.1" stroke="#000"/>
<text x="-53.39" y="0" font-size="48" transform="translate(237 179.73) scale(0.1349 0.1000)" font-weight="bold" stroke="#000" stroke-width="2.2">20</text>
<line x1="237.4" y1="192.45" x2="240" y2="192.45" stroke-width="1.1" stroke="#000"/>
<text x="-53.39" y="0" font-size="48" transform="translate(237 194.18) scale(0.1349 0.1000)" font-weight="bold" stroke="#000" stroke-width="2.2">15</text>
<line x1="237.4" y1="206.9" x2="240" y2="206.9" stroke-width="1.1" stroke="#000"/>
<text x="-53.39" y="0" font-size="48" transform="translate(237 208.63) scale(0.1349 0.1000)" font-weight="bold" stroke="#000" stroke-width="2.2">10</text>
<line x1="237.4" y1="221.35" x2="240" y2="221.35" stroke-width="1.1" stroke="#000"/>
<text x="-26.7" y="0" font-size="48" transform="translate(237 223.08) scale(0.1349 0.1000)" font-weight="bold" stroke="#000" stroke-width="2.2">5</text>
<line x1="237.4" y1="235.8" x2="240" y2="235.8" stroke-width="1.1" stroke="#000"/>
<text x="-26.7" y="0" font-size="48" transform="translate(237 237.53) scale(0.1349 0.1000)" font-weight="bold" stroke="#000" stroke-width="2.2">0</text>
<path d="M274 208.2V206.3Q274 205.5 274.8 205.5H295.1Q295.9 205.5 295.9 206.3V208.2" stroke="#4a4a4a" stroke-width="0.6" fill="none"/>
<path d="M298.6 208.2V201.6Q298.6 200.8 299.4 200.8H319.5Q320.3 200.8 320.3 201.6V202.2" stroke="#4a4a4a" stroke-width="0.6" fill="none"/>
<text x="-21.59" y="0" font-size="37" transform="translate(285 204.45) scale(0.0973 0.1000)" font-weight="bold" fill="#484848">ns</text>
<text x="-21.59" y="0" font-size="37" transform="translate(309.3 200.45) scale(0.0973 0.1000)" font-weight="bold" fill="#484848">ns</text>
<text x="-21.59" y="0" font-size="37" transform="translate(274.8 212.55) scale(0.0973 0.1000)" font-weight="bold" fill="#484848">ns</text>
<text x="-21.59" y="0" font-size="37" transform="translate(297.5 211.65) scale(0.0973 0.1000)" font-weight="bold" fill="#484848">ns</text>
<text x="-21.59" y="0" font-size="37" transform="translate(320.5 205.55) scale(0.0973 0.1000)" font-weight="bold" fill="#484848">ns</text>
<text x="-56.86" y="0" font-size="66" transform="translate(210.8 207) rotate(-90) scale(0.1099 0.1000)" fill="#333" stroke="#333" stroke-width="3.2">IL-4</text>
<text x="-293.5" y="0" font-size="59" transform="translate(225 205.7) rotate(-90) scale(0.0997 0.1000)" fill="#555" stroke="#555" stroke-width="2">Concentration (pg/mL)</text>
</g>
<g id="tgf231">
<line x1="71.9" y1="274.7" x2="71.9" y2="272.5" stroke-width="1.3" stroke="#000"/>
<line x1="69.4" y1="272.5" x2="74.4" y2="272.5" stroke-width="1.3" stroke="#000"/>
<rect x="68.02" y="275.43" width="7.75" height="31.97" fill="#fff"/>
<rect x="68.02" y="275.43" width="7.75" height="31.97" fill="none" stroke="#000" stroke-width="1.45"/>
<line x1="71.9" y1="307.4" x2="71.9" y2="309.4" stroke-width="1.0" stroke="#000"/>
<line x1="94.85" y1="265.5" x2="94.85" y2="262.5" stroke-width="1.3" stroke="#000"/>
<line x1="92.35" y1="262.5" x2="97.35" y2="262.5" stroke-width="1.3" stroke="#000"/>
<rect x="90.92" y="266.23" width="7.85" height="41.17" fill="#000"/>
<rect x="90.92" y="266.23" width="7.85" height="41.17" fill="none" stroke="#000" stroke-width="1.45"/>
<line x1="94.85" y1="307.4" x2="94.85" y2="309.4" stroke-width="1.0" stroke="#000"/>
<line x1="117.85" y1="264.7" x2="117.85" y2="263.5" stroke-width="1.3" stroke="#000"/>
<line x1="115.35" y1="263.5" x2="120.35" y2="263.5" stroke-width="1.3" stroke="#000"/>
<rect x="113.92" y="265.43" width="7.85" height="41.97" fill="#efefef"/>
<path d="M115.15 306.2H120.55M115.15 304.2H120.55M115.15 302.2H120.55M115.15 300.2H120.55M115.15 298.2H120.55M115.15 296.2H120.55M115.15 294.2H120.55M115.15 292.2H120.55M115.15 290.2H120.55M115.15 288.2H120.55M115.15 286.2H120.55M115.15 284.2H120.55M115.15 282.2H120.55M115.15 280.2H120.55M115.15 278.2H120.55M115.15 276.2H120.55M115.15 274.2H120.55M115.15 272.2H120.55M115.15 270.2H120.55M115.15 268.2H120.55M115.15 266.2H120.55" stroke="#b2b2b2" stroke-width="0.95" fill="none"/>
<rect x="113.92" y="265.43" width="7.85" height="41.97" fill="none" stroke="#000" stroke-width="1.45"/>
<line x1="117.85" y1="307.4" x2="117.85" y2="309.4" stroke-width="1.0" stroke="#000"/>
<line x1="140.85" y1="266.1" x2="140.85" y2="260.5" stroke-width="1.3" stroke="#000"/>
<line x1="138.35" y1="260.5" x2="143.35" y2="260.5" stroke-width="1.3" stroke="#000"/>
<rect x="136.92" y="266.83" width="7.85" height="40.57" fill="#fff"/>
<path d="M137.65 307.4L137.65 307.4M137.65 305.4L139.65 307.4M137.65 303.4L141.65 307.4M137.65 301.4L143.65 307.4M137.65 299.4L144.05 305.8M137.65 297.4L144.05 303.8M137.65 295.4L144.05 301.8M137.65 293.4L144.05 299.8M137.65 291.4L144.05 297.8M137.65 289.4L144.05 295.8M137.65 287.4L144.05 293.8M137.65 285.4L144.05 291.8M137.65 283.4L144.05 289.8M137.65 281.4L144.05 287.8M137.65 279.4L144.05 285.8M137.65 277.4L144.05 283.8M137.65 275.4L144.05 281.8M137.65 273.4L144.05 279.8M137.65 271.4L144.05 277.8M137.65 269.4L144.05 275.8M137.8 267.55L144.05 273.8M139.8 267.55L144.05 271.8M141.8 267.55L144.05 269.8M143.8 267.55L144.05 267.8M143.65 307.4L144.05 307M141.65 307.4L144.05 305M139.65 307.4L144.05 303M137.65 307.4L144.05 301M137.65 305.4L144.05 299M137.65 303.4L144.05 297M137.65 301.4L144.05 295M137.65 299.4L144.05 293M137.65 297.4L144.05 291M137.65 295.4L144.05 289M137.65 293.4L144.05 287M137.65 291.4L144.05 285M137.65 289.4L144.05 283M137.65 287.4L144.05 281M137.65 285.4L144.05 279M137.65 283.4L144.05 277M137.65 281.4L144.05 275M137.65 279.4L144.05 273M137.65 277.4L144.05 271M137.65 275.4L144.05 269M137.65 273.4L143.5 267.55M137.65 271.4L141.5 267.55M137.65 269.4L139.5 267.55" stroke="#000" stroke-width="0.55" fill="none"/>
<rect x="136.92" y="266.83" width="7.85" height="40.57" fill="none" stroke="#000" stroke-width="1.45"/>
<line x1="140.85" y1="307.4" x2="140.85" y2="309.4" stroke-width="1.0" stroke="#000"/>
<line x1="60" y1="251.25" x2="60" y2="308.05" stroke-width="1.45" stroke="#000"/>
<line x1="57.4" y1="307.4" x2="153.2" y2="307.4" stroke-width="1.5" stroke="#000"/>
<line x1="57.4" y1="251.8" x2="60" y2="251.8" stroke-width="1.1" stroke="#000"/>
<text x="-80.09" y="0" font-size="48" transform="translate(57 253.53) scale(0.1397 0.1000)" font-weight="bold" stroke="#000" stroke-width="2.2">800</text>
<line x1="57.4" y1="265.7" x2="60" y2="265.7" stroke-width="1.1" stroke="#000"/>
<text x="-80.09" y="0" font-size="48" transform="translate(57 267.43) scale(0.1397 0.1000)" font-weight="bold" stroke="#000" stroke-width="2.2">600</text>
<line x1="57.4" y1="279.6" x2="60" y2="279.6" stroke-width="1.1" stroke="#000"/>
<text x="-80.09" y="0" font-size="48" transform="translate(57 281.33) scale(0.1397 0.1000)" font-weight="bold" stroke="#000" stroke-width="2.2">400</text>
<line x1="57.4" y1="293.5" x2="60" y2="293.5" stroke-width="1.1" stroke="#000"/>
<text x="-80.09" y="0" font-size="48" transform="translate(57 295.23) scale(0.1397 0.1000)" font-weight="bold" stroke="#000" stroke-width="2.2">200</text>
<line x1="57.4" y1="307.4" x2="60" y2="307.4" stroke-width="1.1" stroke="#000"/>
<text x="-26.7" y="0" font-size="48" transform="translate(57 309.13) scale(0.1397 0.1000)" font-weight="bold" stroke="#000" stroke-width="2.2">0</text>
<path d="M93.7 256.6V254.8Q93.7 254 94.5 254H116.4Q117.2 254 117.2 254.8V256.6" stroke="#4a4a4a" stroke-width="0.6" fill="none"/>
<path d="M118.6 256.6V254.8Q118.6 254 119.4 254H140.4Q141.2 254 141.2 254.8V256.6" stroke="#4a4a4a" stroke-width="0.6" fill="none"/>
<text x="-21.59" y="0" font-size="37" transform="translate(105.2 253.25) scale(0.0973 0.1000)" font-weight="bold" fill="#484848">ns</text>
<text x="-21.59" y="0" font-size="37" transform="translate(130 253.25) scale(0.0973 0.1000)" font-weight="bold" fill="#484848">ns</text>
<text x="-7.39" y="0" font-size="38" transform="translate(94.6 262.05) scale(0.1285 0.1000)" font-weight="bold" fill="#444">*</text>
<text x="-7.39" y="0" font-size="38" transform="translate(117.3 261.95) scale(0.1285 0.1000)" font-weight="bold" fill="#444">*</text>
<text x="-104.68" y="0" font-size="72" transform="translate(30.1 275.6) rotate(-90) scale(0.1146 0.1000)" fill="#333" stroke="#333" stroke-width="3.2">TGF-β</text>
<text x="-293.5" y="0" font-size="59" transform="translate(44.9 282.3) rotate(-90) scale(0.0998 0.1000)" fill="#555" stroke="#555" stroke-width="2">Concentration (pg/mL)</text>
<text x="-144.42" y="0" font-size="52" transform="translate(71.4 316.1) scale(1 1.115) rotate(-45) scale(0.1000 0.1000)" fill="#222" stroke="#222" stroke-width="1">MNCs</text>
<text x="-290.44" y="0" font-size="52" transform="translate(95.2 316.1) scale(1 1.115) rotate(-45) scale(0.1000 0.1000)" fill="#222" stroke="#222" stroke-width="1">MNCs + 231</text>
<text x="-708.64" y="0" font-size="54.5" transform="translate(122.2 314.6) scale(1 1.115) rotate(-45) scale(0.1000 0.1000)" fill="#222" stroke="#222" stroke-width="1">MNCs + 231 + hBM-MSC-cm</text>
<text x="-555.6" y="0" font-size="54.5" transform="translate(148.5 314.3) scale(1 1.115) rotate(-45) scale(0.1000 0.1000)" fill="#222" stroke="#222" stroke-width="1">MNCs + hBM-MSC-cm</text>
</g>
<g id="tgf474">
<line x1="251.75" y1="275.5" x2="251.75" y2="273.5" stroke-width="1.3" stroke="#000"/>
<line x1="249.25" y1="273.5" x2="254.25" y2="273.5" stroke-width="1.3" stroke="#000"/>
<rect x="248.03" y="276.23" width="7.45" height="32.58" fill="#fff"/>
<rect x="248.03" y="276.23" width="7.45" height="32.58" fill="none" stroke="#000" stroke-width="1.45"/>
<line x1="251.75" y1="308.8" x2="251.75" y2="310.8" stroke-width="1.0" stroke="#000"/>
<line x1="274.45" y1="296" x2="274.45" y2="291.2" stroke-width="1.3" stroke="#000"/>
<line x1="271.95" y1="291.2" x2="276.95" y2="291.2" stroke-width="1.3" stroke="#000"/>
<rect x="270.53" y="296.73" width="7.85" height="12.08" fill="#000"/>
<rect x="270.53" y="296.73" width="7.85" height="12.08" fill="none" stroke="#000" stroke-width="1.45"/>
<line x1="274.45" y1="308.8" x2="274.45" y2="310.8" stroke-width="1.0" stroke="#000"/>
<line x1="297.25" y1="290.5" x2="297.25" y2="287.5" stroke-width="1.3" stroke="#000"/>
<line x1="294.75" y1="287.5" x2="299.75" y2="287.5" stroke-width="1.3" stroke="#000"/>
<rect x="293.43" y="291.23" width="7.65" height="17.58" fill="#efefef"/>
<path d="M294.65 307.6H299.85M294.65 305.6H299.85M294.65 303.6H299.85M294.65 301.6H299.85M294.65 299.6H299.85M294.65 297.6H299.85M294.65 295.6H299.85M294.65 293.6H299.85" stroke="#b2b2b2" stroke-width="0.95" fill="none"/>
<rect x="293.43" y="291.23" width="7.65" height="17.58" fill="none" stroke="#000" stroke-width="1.45"/>
<line x1="297.25" y1="308.8" x2="297.25" y2="310.8" stroke-width="1.0" stroke="#000"/>
<line x1="319.8" y1="266.2" x2="319.8" y2="261.2" stroke-width="1.3" stroke="#000"/>
<line x1="317.3" y1="261.2" x2="322.3" y2="261.2" stroke-width="1.3" stroke="#000"/>
<rect x="315.93" y="266.93" width="7.75" height="41.88" fill="#fff"/>
<path d="M316.65 308.8L316.65 308.8M316.65 306.8L318.65 308.8M316.65 304.8L320.65 308.8M316.65 302.8L322.65 308.8M316.65 300.8L322.95 307.1M316.65 298.8L322.95 305.1M316.65 296.8L322.95 303.1M316.65 294.8L322.95 301.1M316.65 292.8L322.95 299.1M316.65 290.8L322.95 297.1M316.65 288.8L322.95 295.1M316.65 286.8L322.95 293.1M316.65 284.8L322.95 291.1M316.65 282.8L322.95 289.1M316.65 280.8L322.95 287.1M316.65 278.8L322.95 285.1M316.65 276.8L322.95 283.1M316.65 274.8L322.95 281.1M316.65 272.8L322.95 279.1M316.65 270.8L322.95 277.1M316.65 268.8L322.95 275.1M317.5 267.65L322.95 273.1M319.5 267.65L322.95 271.1M321.5 267.65L322.95 269.1M322.65 308.8L322.95 308.5M320.65 308.8L322.95 306.5M318.65 308.8L322.95 304.5M316.65 308.8L322.95 302.5M316.65 306.8L322.95 300.5M316.65 304.8L322.95 298.5M316.65 302.8L322.95 296.5M316.65 300.8L322.95 294.5M316.65 298.8L322.95 292.5M316.65 296.8L322.95 290.5M316.65 294.8L322.95 288.5M316.65 292.8L322.95 286.5M316.65 290.8L322.95 284.5M316.65 288.8L322.95 282.5M316.65 286.8L322.95 280.5M316.65 284.8L322.95 278.5M316.65 282.8L322.95 276.5M316.65 280.8L322.95 274.5M316.65 278.8L322.95 272.5M316.65 276.8L322.95 270.5M316.65 274.8L322.95 268.5M316.65 272.8L321.8 267.65M316.65 270.8L319.8 267.65M316.65 268.8L317.8 267.65" stroke="#000" stroke-width="0.55" fill="none"/>
<rect x="315.93" y="266.93" width="7.75" height="41.88" fill="none" stroke="#000" stroke-width="1.45"/>
<line x1="319.8" y1="308.8" x2="319.8" y2="310.8" stroke-width="1.0" stroke="#000"/>
<line x1="240" y1="251.75" x2="240" y2="309.45" stroke-width="1.45" stroke="#000"/>
<line x1="237.4" y1="308.8" x2="332.7" y2="308.8" stroke-width="1.5" stroke="#000"/>
<line x1="237.4" y1="252.3" x2="240" y2="252.3" stroke-width="1.1" stroke="#000"/>
<text x="-80.09" y="0" font-size="48" transform="translate(237 254.03) scale(0.1397 0.1000)" font-weight="bold" stroke="#000" stroke-width="2.2">800</text>
<line x1="237.4" y1="266.4" x2="240" y2="266.4" stroke-width="1.1" stroke="#000"/>
<text x="-80.09" y="0" font-size="48" transform="translate(237 268.13) scale(0.1397 0.1000)" font-weight="bold" stroke="#000" stroke-width="2.2">600</text>
<line x1="237.4" y1="280.55" x2="240" y2="280.55" stroke-width="1.1" stroke="#000"/>
<text x="-80.09" y="0" font-size="48" transform="translate(237 282.28) scale(0.1397 0.1000)" font-weight="bold" stroke="#000" stroke-width="2.2">400</text>
<line x1="237.4" y1="294.7" x2="240" y2="294.7" stroke-width="1.1" stroke="#000"/>
<text x="-80.09" y="0" font-size="48" transform="translate(237 296.43) scale(0.1397 0.1000)" font-weight="bold" stroke="#000" stroke-width="2.2">200</text>
<line x1="237.4" y1="308.8" x2="240" y2="308.8" stroke-width="1.1" stroke="#000"/>
<text x="-26.7" y="0" font-size="48" transform="translate(237 310.53) scale(0.1397 0.1000)" font-weight="bold" stroke="#000" stroke-width="2.2">0</text>
<path d="M273.5 282.25V280.05Q273.5 279.25 274.3 279.25H295.2Q296 279.25 296 280.05V282.25" stroke="#4a4a4a" stroke-width="0.6" fill="none"/>
<path d="M298.5 282.25V255.05Q298.5 254.25 299.3 254.25H318.95Q319.75 254.25 319.75 255.05V256" stroke="#4a4a4a" stroke-width="0.6" fill="none"/>
<text x="-21.59" y="0" font-size="37" transform="translate(284.8 278.45) scale(0.0973 0.1000)" font-weight="bold" fill="#484848">ns</text>
<text x="-14.79" y="0" font-size="38" transform="translate(309 254.55) scale(0.1488 0.1000)" font-weight="bold" fill="#444">**</text>
<text x="-14.79" y="0" font-size="38" transform="translate(274.8 290.35) scale(0.1488 0.1000)" font-weight="bold" fill="#444">**</text>
<text x="-7.39" y="0" font-size="38" transform="translate(296.8 286.55) scale(0.1285 0.1000)" font-weight="bold" fill="#444">*</text>
<text x="-21.59" y="0" font-size="37" transform="translate(319.8 259.25) scale(0.0973 0.1000)" font-weight="bold" fill="#484848">ns</text>
<text x="-104.68" y="0" font-size="72" transform="translate(210.9 275.6) rotate(-90) scale(0.1146 0.1000)" fill="#333" stroke="#333" stroke-width="3.2">TGF-β</text>
<text x="-293.5" y="0" font-size="59" transform="translate(225 282.4) rotate(-90) scale(0.0998 0.1000)" fill="#555" stroke="#555" stroke-width="2">Concentration (pg/mL)</text>
<text x="-149.98" y="0" font-size="54" transform="translate(255 317.7) scale(1 1.07) rotate(-45) scale(0.1000 0.1000)" fill="#222" stroke="#222" stroke-width="1">MNCs</text>
<text x="-301.62" y="0" font-size="54" transform="translate(278.6 317.7) scale(1 1.07) rotate(-45) scale(0.1000 0.1000)" fill="#222" stroke="#222" stroke-width="1">MNCs + 474</text>
<text x="-728.14" y="0" font-size="56" transform="translate(304.6 317.2) scale(1 1.07) rotate(-45) scale(0.1000 0.1000)" fill="#222" stroke="#222" stroke-width="1">MNCs + 474 + hBM-MSC-cm</text>
<text x="-570.89" y="0" font-size="56" transform="translate(330 317.2) scale(1 1.07) rotate(-45) scale(0.1000 0.1000)" fill="#222" stroke="#222" stroke-width="1">MNCs + hBM-MSC-cm</text>
</g>
<g id="ido231">
<line x1="73" y1="480.2" x2="73" y2="478.1" stroke-width="1.3" stroke="#000"/>
<line x1="70.5" y1="478.1" x2="75.5" y2="478.1" stroke-width="1.3" stroke="#000"/>
<rect x="69.02" y="480.93" width="7.95" height="3.63" fill="#fff"/>
<rect x="69.02" y="480.93" width="7.95" height="3.63" fill="none" stroke="#000" stroke-width="1.45"/>
<line x1="73" y1="484.55" x2="73" y2="486.55" stroke-width="1.0" stroke="#000"/>
<line x1="97.25" y1="450" x2="97.25" y2="449.7" stroke-width="1.3" stroke="#000"/>
<line x1="94.75" y1="449.7" x2="99.75" y2="449.7" stroke-width="1.3" stroke="#000"/>
<rect x="93.22" y="450.73" width="8.05" height="33.83" fill="#000"/>
<rect x="93.22" y="450.73" width="8.05" height="33.83" fill="none" stroke="#000" stroke-width="1.45"/>
<line x1="97.25" y1="484.55" x2="97.25" y2="486.55" stroke-width="1.0" stroke="#000"/>
<line x1="121.38" y1="433" x2="121.38" y2="429.25" stroke-width="1.3" stroke="#000"/>
<line x1="118.88" y1="429.25" x2="123.88" y2="429.25" stroke-width="1.3" stroke="#000"/>
<rect x="117.22" y="433.73" width="8.3" height="50.83" fill="#efefef"/>
<path d="M118.45 483.35H124.3M118.45 481.35H124.3M118.45 479.35H124.3M118.45 477.35H124.3M118.45 475.35H124.3M118.45 473.35H124.3M118.45 471.35H124.3M118.45 469.35H124.3M118.45 467.35H124.3M118.45 465.35H124.3M118.45 463.35H124.3M118.45 461.35H124.3M118.45 459.35H124.3M118.45 457.35H124.3M118.45 455.35H124.3M118.45 453.35H124.3M118.45 451.35H124.3M118.45 449.35H124.3M118.45 447.35H124.3M118.45 445.35H124.3M118.45 443.35H124.3M118.45 441.35H124.3M118.45 439.35H124.3M118.45 437.35H124.3M118.45 435.35H124.3" stroke="#b2b2b2" stroke-width="0.95" fill="none"/>
<rect x="117.22" y="433.73" width="8.3" height="50.83" fill="none" stroke="#000" stroke-width="1.45"/>
<line x1="121.38" y1="484.55" x2="121.38" y2="486.55" stroke-width="1.0" stroke="#000"/>
<line x1="145.5" y1="473.4" x2="145.5" y2="467" stroke-width="1.3" stroke="#000"/>
<line x1="143" y1="467" x2="148" y2="467" stroke-width="1.3" stroke="#000"/>
<rect x="141.22" y="474.12" width="8.55" height="10.43" fill="#fff"/>
<path d="M141.95 484.55L141.95 484.55M141.95 482.55L143.95 484.55M141.95 480.55L145.95 484.55M141.95 478.55L147.95 484.55M141.95 476.55L149.05 483.65M142.25 474.85L149.05 481.65M144.25 474.85L149.05 479.65M146.25 474.85L149.05 477.65M148.25 474.85L149.05 475.65M147.95 484.55L149.05 483.45M145.95 484.55L149.05 481.45M143.95 484.55L149.05 479.45M141.95 484.55L149.05 477.45M141.95 482.55L149.05 475.45M141.95 480.55L147.65 474.85M141.95 478.55L145.65 474.85M141.95 476.55L143.65 474.85" stroke="#000" stroke-width="0.55" fill="none"/>
<rect x="141.22" y="474.12" width="8.55" height="10.43" fill="none" stroke="#000" stroke-width="1.45"/>
<line x1="145.5" y1="484.55" x2="145.5" y2="486.55" stroke-width="1.0" stroke="#000"/>
<rect x="92" y="459.45" width="10.5" height="2.7" fill="#fff"/>
<rect x="116" y="459.45" width="10.75" height="2.7" fill="#fff"/>
<line x1="60.9" y1="425.2" x2="60.9" y2="485.2" stroke-width="1.45" stroke="#000"/>
<line x1="58.3" y1="484.55" x2="159.2" y2="484.55" stroke-width="1.5" stroke="#000"/>
<line x1="58.3" y1="425.75" x2="60.9" y2="425.75" stroke-width="1.1" stroke="#000"/>
<text x="-53.39" y="0" font-size="48" transform="translate(57.9 427.48) scale(0.1461 0.1000)" font-weight="bold" stroke="#000" stroke-width="2.2">35</text>
<line x1="58.3" y1="432.4" x2="60.9" y2="432.4" stroke-width="1.1" stroke="#000"/>
<text x="-53.39" y="0" font-size="48" transform="translate(57.9 434.13) scale(0.1461 0.1000)" font-weight="bold" stroke="#000" stroke-width="2.2">30</text>
<line x1="58.3" y1="439.1" x2="60.9" y2="439.1" stroke-width="1.1" stroke="#000"/>
<text x="-53.39" y="0" font-size="48" transform="translate(57.9 440.83) scale(0.1461 0.1000)" font-weight="bold" stroke="#000" stroke-width="2.2">25</text>
<line x1="58.3" y1="445.8" x2="60.9" y2="445.8" stroke-width="1.1" stroke="#000"/>
<text x="-53.39" y="0" font-size="48" transform="translate(57.9 447.53) scale(0.1461 0.1000)" font-weight="bold" stroke="#000" stroke-width="2.2">20</text>
<line x1="58.3" y1="452.5" x2="60.9" y2="452.5" stroke-width="1.1" stroke="#000"/>
<text x="-53.39" y="0" font-size="48" transform="translate(57.9 454.23) scale(0.1461 0.1000)" font-weight="bold" stroke="#000" stroke-width="2.2">15</text>
<line x1="58.3" y1="458.9" x2="60.9" y2="458.9" stroke-width="1.1" stroke="#000"/>
<text x="-53.39" y="0" font-size="48" transform="translate(57.9 460.63) scale(0.1461 0.1000)" font-weight="bold" stroke="#000" stroke-width="2.2">10</text>
<line x1="58.3" y1="461.9" x2="60.9" y2="461.9" stroke-width="1.1" stroke="#000"/>
<text x="-66.73" y="0" font-size="48" transform="translate(57.9 463.63) scale(0.1461 0.1000)" font-weight="bold" stroke="#000" stroke-width="2.2">1.5</text>
<line x1="58.3" y1="469.4" x2="60.9" y2="469.4" stroke-width="1.1" stroke="#000"/>
<text x="-66.73" y="0" font-size="48" transform="translate(57.9 471.13) scale(0.1461 0.1000)" font-weight="bold" stroke="#000" stroke-width="2.2">1.0</text>
<line x1="58.3" y1="477" x2="60.9" y2="477" stroke-width="1.1" stroke="#000"/>
<text x="-66.73" y="0" font-size="48" transform="translate(57.9 478.73) scale(0.1461 0.1000)" font-weight="bold" stroke="#000" stroke-width="2.2">0.5</text>
<line x1="58.3" y1="484.55" x2="60.9" y2="484.55" stroke-width="1.1" stroke="#000"/>
<text x="-66.73" y="0" font-size="48" transform="translate(57.9 486.28) scale(0.1461 0.1000)" font-weight="bold" stroke="#000" stroke-width="2.2">0.0</text>
<line x1="59.6" y1="460.3" x2="62.2" y2="461.5" stroke-width="1.5" stroke="#fff"/>
<line x1="59.2" y1="458.9" x2="62.8" y2="460.4" stroke-width="1.0" stroke="#000"/>
<line x1="59.2" y1="461.5" x2="62.8" y2="463" stroke-width="1.0" stroke="#000"/>
<path d="M98.4 444.25V424Q98.4 423.2 99.2 423.2H117.5Q118.3 423.2 118.3 424V425" stroke="#4a4a4a" stroke-width="0.6" fill="none"/>
<path d="M124.2 425V424Q124.2 423.2 125 423.2H147.1Q147.9 423.2 147.9 424V460.75" stroke="#4a4a4a" stroke-width="0.6" fill="none"/>
<text x="-22.18" y="0" font-size="38" transform="translate(107.4 422.85) scale(0.1510 0.1000)" font-weight="bold" fill="#444">***</text>
<text x="-29.58" y="0" font-size="38" transform="translate(134.5 422.85) scale(0.1522 0.1000)" font-weight="bold" fill="#444">****</text>
<text x="-29.58" y="0" font-size="38" transform="translate(97.2 449.05) scale(0.1522 0.1000)" font-weight="bold" fill="#444">****</text>
<text x="-29.58" y="0" font-size="38" transform="translate(120.1 428.45) scale(0.1522 0.1000)" font-weight="bold" fill="#444">****</text>
<text x="-21.59" y="0" font-size="37" transform="translate(145.5 464.35) scale(0.0973 0.1000)" font-weight="bold" fill="#484848">ns</text>
<text x="-62.22" y="0" font-size="70" transform="translate(30.7 454.3) rotate(-90) scale(0.1093 0.1000)" fill="#333" stroke="#333" stroke-width="3.2">IDO</text>
<text x="-137.93" y="0" font-size="68" transform="translate(46.2 454.2) rotate(-90) scale(0.0812 0.1000)" fill="#555" stroke="#555" stroke-width="2">% of IDO</text>
<text x="-162.75" y="0" font-size="58.6" transform="translate(72.5 491.5) scale(1 1.058) rotate(-45) scale(0.1000 0.1000)" fill="#222" stroke="#222" stroke-width="1">MNCs</text>
<text x="-327.31" y="0" font-size="58.6" transform="translate(96.9 491.6) scale(1 1.058) rotate(-45) scale(0.1000 0.1000)" fill="#222" stroke="#222" stroke-width="1">MNCs + 231</text>
<text x="-746.34" y="0" font-size="57.4" transform="translate(124.7 490) scale(1 1.058) rotate(-45) scale(0.1000 0.1000)" fill="#222" stroke="#222" stroke-width="1">MNCs + 231 + hBM-MSC-cm</text>
<text x="-597.39" y="0" font-size="58.6" transform="translate(152.1 489.9) scale(1 1.058) rotate(-45) scale(0.1000 0.1000)" fill="#222" stroke="#222" stroke-width="1">MNCs + hBM-MSC-cm</text>
</g>
<g id="ido474">
<line x1="259.8" y1="480.4" x2="259.8" y2="478.5" stroke-width="1.3" stroke="#000"/>
<line x1="257.3" y1="478.5" x2="262.3" y2="478.5" stroke-width="1.3" stroke="#000"/>
<rect x="255.82" y="481.12" width="7.95" height="3.48" fill="#fff"/>
<rect x="255.82" y="481.12" width="7.95" height="3.48" fill="none" stroke="#000" stroke-width="1.45"/>
<line x1="259.8" y1="484.6" x2="259.8" y2="486.6" stroke-width="1.0" stroke="#000"/>
<line x1="284.12" y1="479.5" x2="284.12" y2="478.25" stroke-width="1.3" stroke="#000"/>
<line x1="281.62" y1="478.25" x2="286.62" y2="478.25" stroke-width="1.3" stroke="#000"/>
<rect x="279.98" y="480.23" width="8.3" height="4.38" fill="#000"/>
<rect x="279.98" y="480.23" width="8.3" height="4.38" fill="none" stroke="#000" stroke-width="1.45"/>
<line x1="284.12" y1="484.6" x2="284.12" y2="486.6" stroke-width="1.0" stroke="#000"/>
<line x1="307.88" y1="481.75" x2="307.88" y2="480" stroke-width="1.3" stroke="#000"/>
<line x1="305.38" y1="480" x2="310.38" y2="480" stroke-width="1.3" stroke="#000"/>
<rect x="303.73" y="482.48" width="8.3" height="2.13" fill="#efefef"/>
<path d="M304.95 483.4H310.8" stroke="#b2b2b2" stroke-width="0.95" fill="none"/>
<rect x="303.73" y="482.48" width="8.3" height="2.13" fill="none" stroke="#000" stroke-width="1.45"/>
<line x1="307.88" y1="484.6" x2="307.88" y2="486.6" stroke-width="1.0" stroke="#000"/>
<line x1="331.5" y1="473.6" x2="331.5" y2="467" stroke-width="1.3" stroke="#000"/>
<line x1="329" y1="467" x2="334" y2="467" stroke-width="1.3" stroke="#000"/>
<rect x="327.53" y="474.33" width="7.95" height="10.28" fill="#fff"/>
<path d="M328.25 484.6L328.25 484.6M328.25 482.6L330.25 484.6M328.25 480.6L332.25 484.6M328.25 478.6L334.25 484.6M328.25 476.6L334.75 483.1M328.7 475.05L334.75 481.1M330.7 475.05L334.75 479.1M332.7 475.05L334.75 477.1M334.7 475.05L334.75 475.1M334.25 484.6L334.75 484.1M332.25 484.6L334.75 482.1M330.25 484.6L334.75 480.1M328.25 484.6L334.75 478.1M328.25 482.6L334.75 476.1M328.25 480.6L333.8 475.05M328.25 478.6L331.8 475.05M328.25 476.6L329.8 475.05" stroke="#000" stroke-width="0.55" fill="none"/>
<rect x="327.53" y="474.33" width="7.95" height="10.28" fill="none" stroke="#000" stroke-width="1.45"/>
<line x1="331.5" y1="484.6" x2="331.5" y2="486.6" stroke-width="1.0" stroke="#000"/>
<line x1="247.65" y1="425.2" x2="247.65" y2="485.25" stroke-width="1.45" stroke="#000"/>
<line x1="245.05" y1="484.6" x2="344.3" y2="484.6" stroke-width="1.5" stroke="#000"/>
<line x1="245.05" y1="425.75" x2="247.65" y2="425.75" stroke-width="1.1" stroke="#000"/>
<text x="-53.39" y="0" font-size="48" transform="translate(244.65 427.48) scale(0.1461 0.1000)" font-weight="bold" stroke="#000" stroke-width="2.2">35</text>
<line x1="245.05" y1="432.5" x2="247.65" y2="432.5" stroke-width="1.1" stroke="#000"/>
<text x="-53.39" y="0" font-size="48" transform="translate(244.65 434.23) scale(0.1461 0.1000)" font-weight="bold" stroke="#000" stroke-width="2.2">30</text>
<line x1="245.05" y1="439.25" x2="247.65" y2="439.25" stroke-width="1.1" stroke="#000"/>
<text x="-53.39" y="0" font-size="48" transform="translate(244.65 440.98) scale(0.1461 0.1000)" font-weight="bold" stroke="#000" stroke-width="2.2">25</text>
<line x1="245.05" y1="446.1" x2="247.65" y2="446.1" stroke-width="1.1" stroke="#000"/>
<text x="-53.39" y="0" font-size="48" transform="translate(244.65 447.83) scale(0.1461 0.1000)" font-weight="bold" stroke="#000" stroke-width="2.2">20</text>
<line x1="245.05" y1="452.9" x2="247.65" y2="452.9" stroke-width="1.1" stroke="#000"/>
<text x="-53.39" y="0" font-size="48" transform="translate(244.65 454.63) scale(0.1461 0.1000)" font-weight="bold" stroke="#000" stroke-width="2.2">15</text>
<line x1="245.05" y1="459.2" x2="247.65" y2="459.2" stroke-width="1.1" stroke="#000"/>
<text x="-53.39" y="0" font-size="48" transform="translate(244.65 460.93) scale(0.1461 0.1000)" font-weight="bold" stroke="#000" stroke-width="2.2">10</text>
<line x1="245.05" y1="462.1" x2="247.65" y2="462.1" stroke-width="1.1" stroke="#000"/>
<text x="-66.73" y="0" font-size="48" transform="translate(244.65 463.83) scale(0.1461 0.1000)" font-weight="bold" stroke="#000" stroke-width="2.2">1.5</text>
<line x1="245.05" y1="469.9" x2="247.65" y2="469.9" stroke-width="1.1" stroke="#000"/>
<text x="-66.73" y="0" font-size="48" transform="translate(244.65 471.63) scale(0.1461 0.1000)" font-weight="bold" stroke="#000" stroke-width="2.2">1.0</text>
<line x1="245.05" y1="477.5" x2="247.65" y2="477.5" stroke-width="1.1" stroke="#000"/>
<text x="-66.73" y="0" font-size="48" transform="translate(244.65 479.23) scale(0.1461 0.1000)" font-weight="bold" stroke="#000" stroke-width="2.2">0.5</text>
<line x1="245.05" y1="484.6" x2="247.65" y2="484.6" stroke-width="1.1" stroke="#000"/>
<text x="-66.73" y="0" font-size="48" transform="translate(244.65 486.33) scale(0.1461 0.1000)" font-weight="bold" stroke="#000" stroke-width="2.2">0.0</text>
<line x1="246.35" y1="460.3" x2="248.95" y2="461.5" stroke-width="1.5" stroke="#fff"/>
<line x1="245.95" y1="458.9" x2="249.55" y2="460.4" stroke-width="1.0" stroke="#000"/>
<line x1="245.95" y1="461.5" x2="249.55" y2="463" stroke-width="1.0" stroke="#000"/>
<path d="M284.25 470.75V468.3Q284.25 467.5 285.05 467.5H305.95Q306.75 467.5 306.75 468.3V471.75" stroke="#4a4a4a" stroke-width="0.6" fill="none"/>
<path d="M311.75 478.25V458.3Q311.75 457.5 312.55 457.5H331.45Q332.25 457.5 332.25 458.3V460" stroke="#4a4a4a" stroke-width="0.6" fill="none"/>
<text x="-21.59" y="0" font-size="37" transform="translate(296 466.25) scale(0.0973 0.1000)" font-weight="bold" fill="#484848">ns</text>
<text x="-21.59" y="0" font-size="37" transform="translate(320.3 453.95) scale(0.0973 0.1000)" font-weight="bold" fill="#484848">ns</text>
<text x="-21.59" y="0" font-size="37" transform="translate(284.3 475.45) scale(0.0973 0.1000)" font-weight="bold" fill="#484848">ns</text>
<text x="-21.59" y="0" font-size="37" transform="translate(307.3 477.95) scale(0.0973 0.1000)" font-weight="bold" fill="#484848">ns</text>
<text x="-21.59" y="0" font-size="37" transform="translate(331.8 464.25) scale(0.0973 0.1000)" font-weight="bold" fill="#484848">ns</text>
<text x="-62.22" y="0" font-size="70" transform="translate(217.7 454.3) rotate(-90) scale(0.1093 0.1000)" fill="#333" stroke="#333" stroke-width="3.2">IDO</text>
<text x="-137.93" y="0" font-size="68" transform="translate(232.3 454.3) rotate(-90) scale(0.0798 0.1000)" fill="#555" stroke="#555" stroke-width="2">% of IDO</text>
<text x="-162.75" y="0" font-size="58.6" transform="translate(262.8 492.7) scale(1 1.058) rotate(-45) scale(0.1000 0.1000)" fill="#222" stroke="#222" stroke-width="1">MNCs</text>
<text x="-327.31" y="0" font-size="58.6" transform="translate(286.9 492.8) scale(1 1.058) rotate(-45) scale(0.1000 0.1000)" fill="#222" stroke="#222" stroke-width="1">MNCs + 474</text>
<text x="-761.95" y="0" font-size="58.6" transform="translate(314.3 492.1) scale(1 1.058) rotate(-45) scale(0.1000 0.1000)" fill="#222" stroke="#222" stroke-width="1">MNCs + 474 + hBM-MSC-cm</text>
<text x="-597.39" y="0" font-size="58.6" transform="translate(340.3 492.1) scale(1 1.058) rotate(-45) scale(0.1000 0.1000)" fill="#222" stroke="#222" stroke-width="1">MNCs + hBM-MSC-cm</text>
</g>
<circle cx="45" cy="439.5" r="0.45" fill="#999"/><circle cx="44.8" cy="430.3" r="0.4" fill="#ccc"/>
</svg></body></html>
